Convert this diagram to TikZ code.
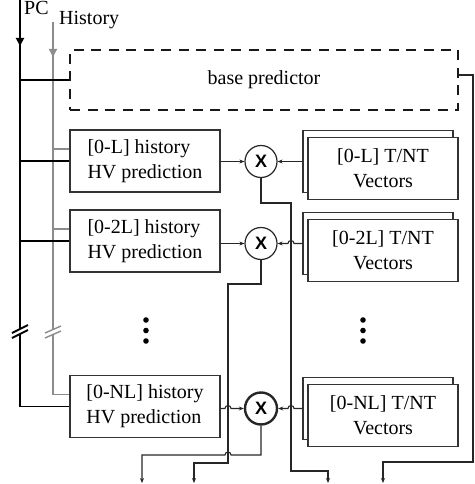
\documentclass[tikz,border=0pt]{standalone}
\usepackage{fontspec}
\setmainfont{Liberation Serif}
\setsansfont{Liberation Sans}
\usetikzlibrary{arrows.meta}

\begin{document}
\begin{tikzpicture}[x=1pt, y=1pt, font=\fontsize{20}{25}\selectfont, >={Stealth[length=5pt,width=4pt]}]
      \tikzstyle{STY1} = [draw=black!80, line width=1.2pt, rectangle, fill=white, minimum height=62pt, minimum width=150pt, inner sep=0pt, align=center]
      \tikzstyle{STY2} = [draw=black!90, line width=2pt, dash pattern=on 10pt off 7.5pt, rectangle, minimum height=60pt, minimum width=388pt]
      \tikzstyle{STY3} = [draw=black!85, line width=1.2pt, circle, minimum size=32pt, inner sep=0pt, font=\sffamily\bfseries\fontsize{18}{18}\selectfont]
      \tikzstyle{STY4} = [black, line width=1.8pt]
      \tikzstyle{STY5} = [black!45, line width=1.4pt]
      \tikzstyle{STY6} = [->, black!85, line width=1.1pt]
      \tikzstyle{STY7} = [-{Triangle[length=8pt,width=8pt]}]

      \useasboundingbox (0,0) rectangle (474,-484);

      %%%%% VERTEX

      \coordinate (pc0) at (20,0);
      \coordinate (hi0) at (53,-22);
      \node[anchor=west, inner sep=0pt](pc) at (24,-8) {PC};
      \node[anchor=west, inner sep=0pt](hist) at (59,-20) {History};

      \node[STY2](base) at (264,-80) {base predictor};

      \node[STY1, align=left](hv1) at (145,-161) {[0-L] history\\HV prediction};
      \node[STY1, align=left](hv2) at (145,-241) {[0-2L] history\\HV prediction};
      \node[STY1, align=left](hv3) at (145,-406.5) {[0-NL] history\\HV prediction};

      \coordinate (h1) at ([yshift=12pt]hv1.west);
      \coordinate (h2) at ([yshift=12pt]hv2.west);
      \coordinate (h3) at ([yshift=12pt]hv3.west);

      \node[STY1](tb1) at (378,-161.5) {};
      \node[STY1](tnt1) at (383,-168.5) {[0-L] T/NT\\Vectors};
      \node[STY1](tb2) at (378,-243.5) {};
      \node[STY1](tnt2) at (383,-250.5) {[0-2L] T/NT\\Vectors};
      \node[STY1](tb3) at (378,-408.5) {};
      \node[STY1](tnt3) at (383,-415.5) {[0-NL] T/NT\\Vectors};

      \node[STY3](x1) at (261,-161.5) {X};
      \node[STY3](x2) at (261,-243.5) {X};
      \node[STY3, line width=2.4pt](x3) at (261,-408.5) {X};

      \coordinate (o1) at (142,-483);
      \coordinate (o2) at (194,-483);
      \coordinate (o3) at (328,-483);
      \coordinate (o4) at (383,-483);

      %%%%% EDGES
      % history (gray)
      \draw[STY5]  (hi0) -- (53,-329.5);
      \draw[STY5]  (53,-334.5) |- (h3);
      \draw[STY5]  (hi0 |- h1) -- (h1);
      \draw[STY5]  (hi0 |- h2) -- (h2);
      \draw[STY5]  (45,-333) -- (61,-326);
      \draw[STY5]  (45,-338) -- (61,-331);
      \draw[STY5, STY7]  (hi0) -- (53,-57);

      % PC (black)
      \draw[STY4]  (pc0) -- (20,-329);
      \draw[STY4]  (20,-334) |- (hv3.west);
      \draw[STY4]  (pc0 |- base.west) -- (base.west);
      \draw[STY4]  (pc0 |- hv1.west) -- (hv1.west);
      \draw[STY4]  (pc0 |- hv2.west) -- (hv2.west);
      \draw[STY4]  (12,-333) -- (28,-325);
      \draw[STY4]  (12,-338) -- (28,-330);
      \draw[STY4, STY7]  (pc0) -- (20,-46);

      % inputs of the multipliers
      \draw[STY6]  (hv1.east |- x1) -- (x1);
      \draw[STY6]  (hv2.east |- x2) -- (x2);
      \draw[STY6]  (hv3.east |- x3) -- (225,-408.5) arc (180:0:3) -- (x3);
      \draw[STY6]  (tb1.west) -- (x1);
      \draw[STY6]  (tb2.west) -- (294,-243.5) arc (0:180:3) -- (x2);
      \draw[STY6]  (tb3.west) -- (294,-408.5) arc (0:180:3) -- (x3);

      % outputs
      \draw[STY6]  (x1.south) |- (291,-203) |- (328,-471) -- (o3);
      \draw[STY6]  (x2.south) |- (228,-284) |- (194,-463) -- (o2);
      \draw[STY6]  (x3.south) |- (231,-455) arc (0:180:3) -| (o1);
      \draw[STY6]  ([yshift=5pt]base.east) -| (473,-462) -| (o4);

      %%%%% DOTS
      \fill (146,-320) circle (2.8);
      \fill (146,-330.5) circle (2.8);
      \fill (146,-341) circle (2.8);
      \fill (363,-320) circle (2.8);
      \fill (363,-330.5) circle (2.8);
      \fill (363,-341) circle (2.8);
\end{tikzpicture}
\end{document}
